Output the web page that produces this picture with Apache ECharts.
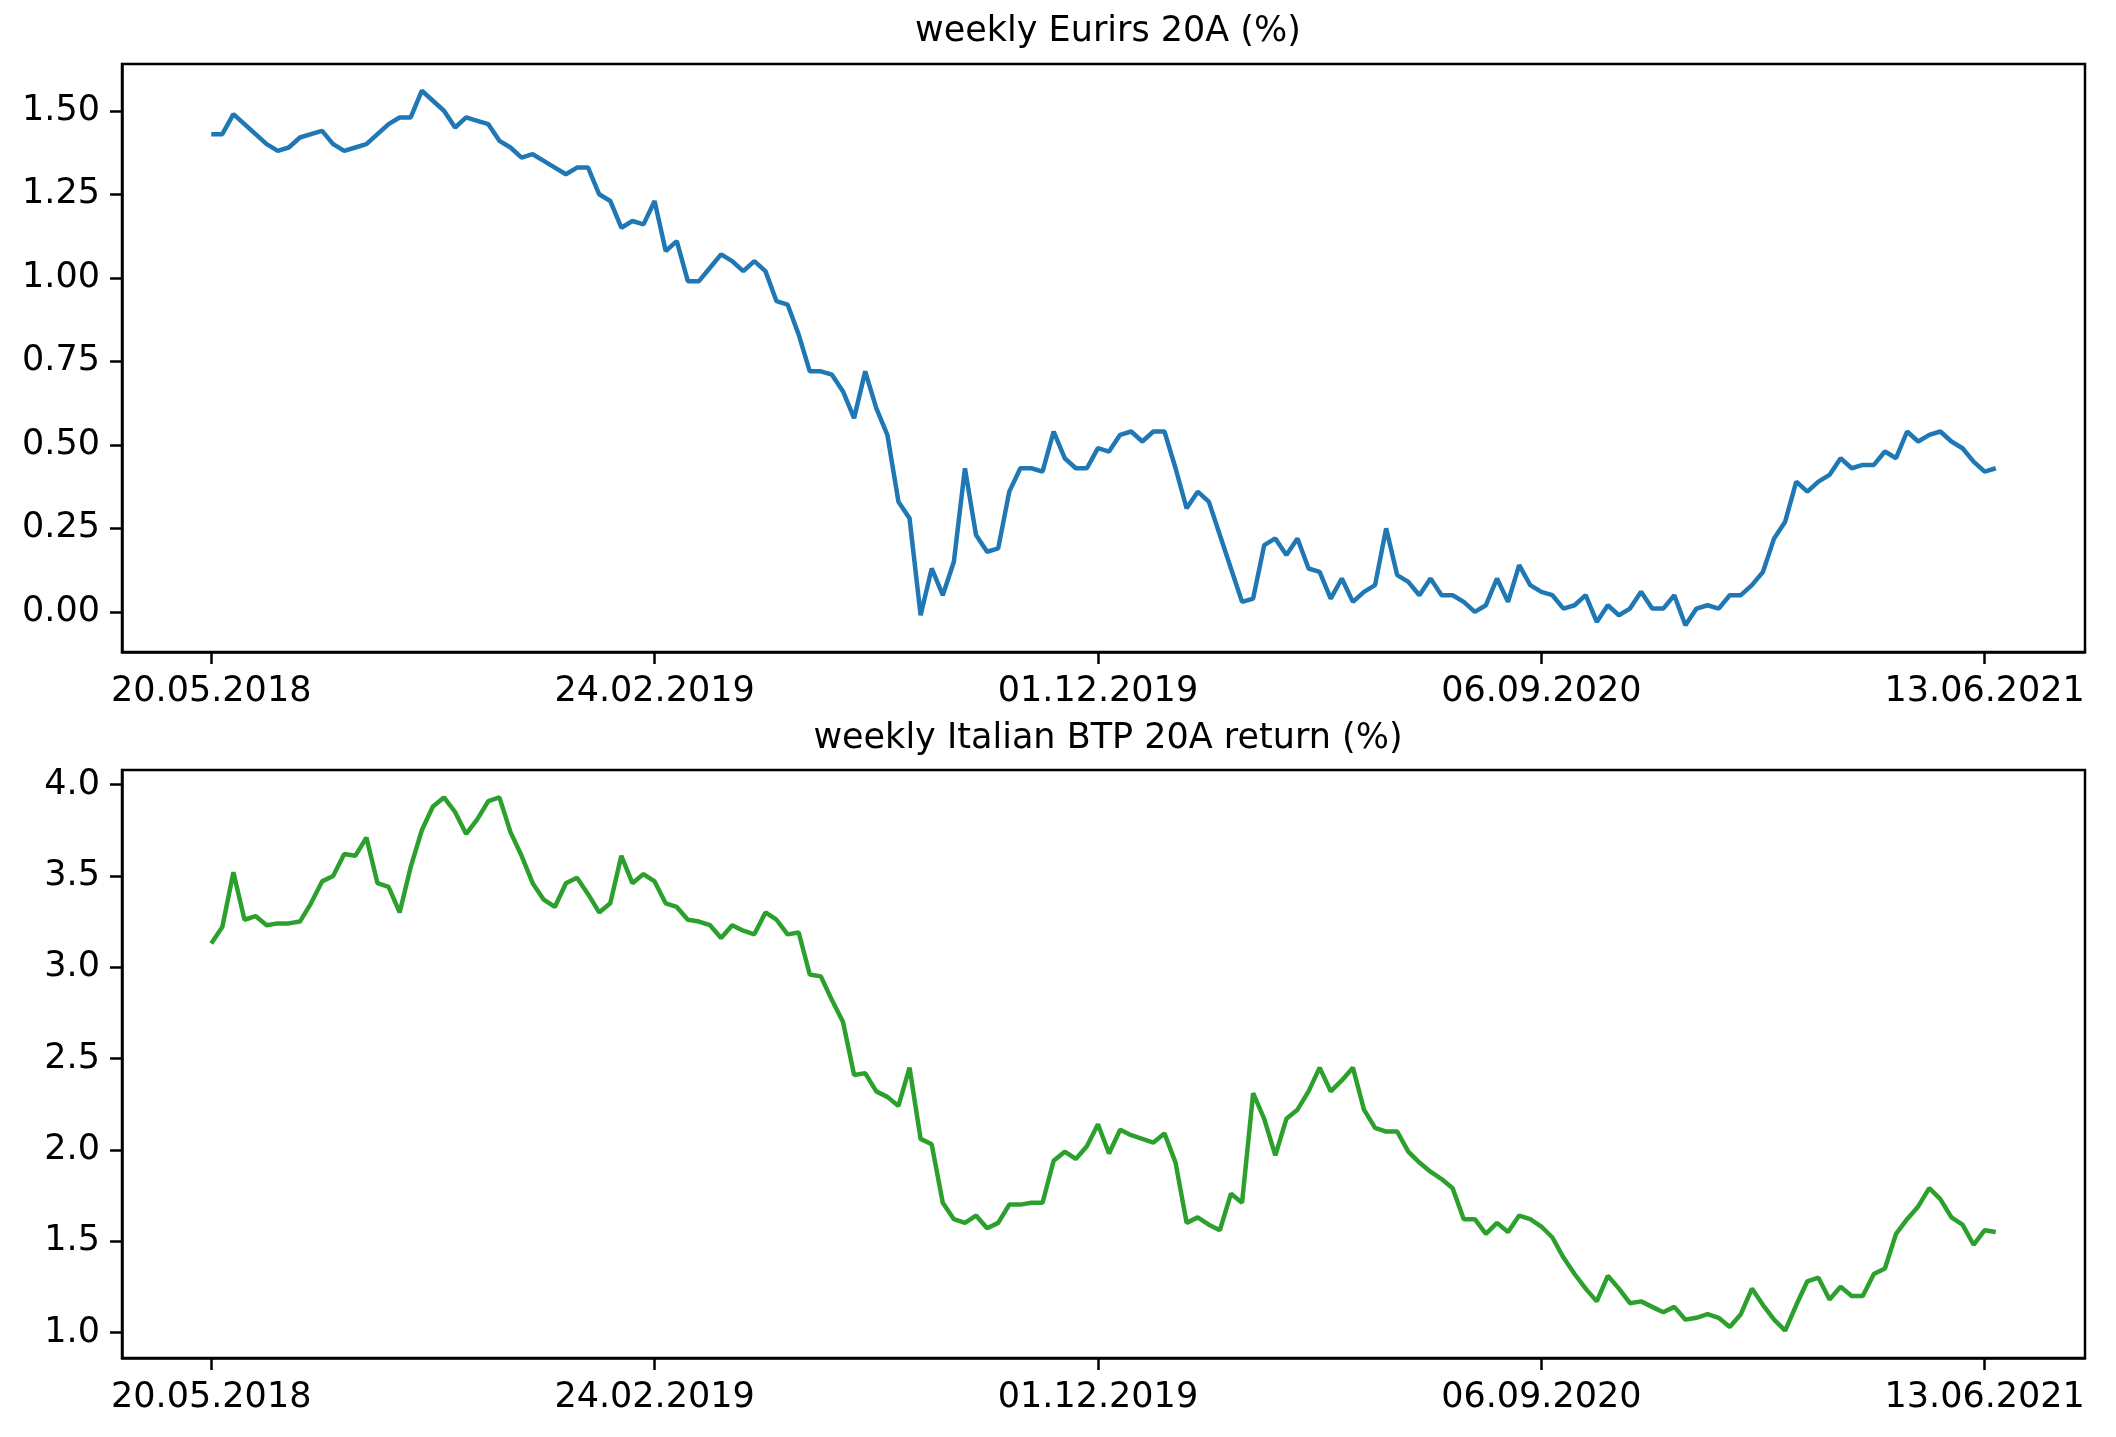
<!DOCTYPE html>
<html>
<head>
<meta charset="utf-8">
<script src="https://cdn.jsdelivr.net/npm/echarts@6/dist/echarts.min.js"></script>
<style>
html,body{margin:0;padding:0;background:#ffffff;}
#chart{width:2116px;height:1437px;}
</style>
</head>
<body>
<div id="chart"></div>
<script>
// weekly observations, index 0 = 20.05.2018
const tickPositions = [0, 40, 80, 120, 160];
const tickLabels = ['20.05.2018', '24.02.2019', '01.12.2019', '06.09.2020', '13.06.2021'];

const eurirsTicks = [0, 0.25, 0.5, 0.75, 1.0, 1.25, 1.5];
const btpTicks = [1.0, 1.5, 2.0, 2.5, 3.0, 3.5, 4.0];

const eurirs = [
  1.43, 1.43, 1.49, 1.46, 1.43, 1.40, 1.38, 1.39, 1.42, 1.43,
  1.44, 1.40, 1.38, 1.39, 1.40, 1.43, 1.46, 1.48, 1.48, 1.56,
  1.53, 1.50, 1.45, 1.48, 1.47, 1.46, 1.41, 1.39, 1.36, 1.37,
  1.35, 1.33, 1.31, 1.33, 1.33, 1.25, 1.23, 1.15, 1.17, 1.16,
  1.23, 1.08, 1.11, 0.99, 0.99, 1.03, 1.07, 1.05, 1.02, 1.05,
  1.02, 0.93, 0.92, 0.83, 0.72, 0.72, 0.71, 0.66, 0.58, 0.72,
  0.61, 0.53, 0.33, 0.28, -0.01, 0.13, 0.05, 0.15, 0.43, 0.23,
  0.18, 0.19, 0.36, 0.43, 0.43, 0.42, 0.54, 0.46, 0.43, 0.43,
  0.49, 0.48, 0.53, 0.54, 0.51, 0.54, 0.54, 0.43, 0.31, 0.36,
  0.33, 0.23, 0.13, 0.03, 0.04, 0.20, 0.22, 0.17, 0.22, 0.13,
  0.12, 0.04, 0.10, 0.03, 0.06, 0.08, 0.25, 0.11, 0.09, 0.05,
  0.10, 0.05, 0.05, 0.03, 0.00, 0.02, 0.10, 0.03, 0.14, 0.08,
  0.06, 0.05, 0.01, 0.02, 0.05, -0.03, 0.02, -0.01, 0.01, 0.06,
  0.01, 0.01, 0.05, -0.04, 0.01, 0.02, 0.01, 0.05, 0.05, 0.08,
  0.12, 0.22, 0.27, 0.39, 0.36, 0.39, 0.41, 0.46, 0.43, 0.44,
  0.44, 0.48, 0.46, 0.54, 0.51, 0.53, 0.54, 0.51, 0.49, 0.45,
  0.42, 0.43
];

const btp = [
  3.13, 3.22, 3.52, 3.26, 3.28, 3.23, 3.24, 3.24, 3.25, 3.35,
  3.47, 3.50, 3.62, 3.61, 3.71, 3.46, 3.44, 3.30, 3.55, 3.75,
  3.88, 3.93, 3.85, 3.73, 3.81, 3.91, 3.93, 3.74, 3.61, 3.46,
  3.37, 3.33, 3.46, 3.49, 3.40, 3.30, 3.35, 3.61, 3.46, 3.51,
  3.47, 3.35, 3.33, 3.26, 3.25, 3.23, 3.16, 3.23, 3.20, 3.18,
  3.30, 3.26, 3.18, 3.19, 2.96, 2.95, 2.82, 2.70, 2.41, 2.42,
  2.32, 2.29, 2.24, 2.45, 2.06, 2.03, 1.71, 1.62, 1.60, 1.64,
  1.57, 1.60, 1.70, 1.70, 1.71, 1.71, 1.94, 1.99, 1.95, 2.02,
  2.14, 1.98, 2.11, 2.08, 2.06, 2.04, 2.09, 1.93, 1.60, 1.63,
  1.59, 1.56, 1.76, 1.71, 2.31, 2.17, 1.97, 2.17, 2.22, 2.32,
  2.45, 2.32, 2.38, 2.45, 2.22, 2.12, 2.10, 2.10, 1.99, 1.93,
  1.88, 1.84, 1.79, 1.62, 1.62, 1.54, 1.60, 1.55, 1.64, 1.62,
  1.58, 1.52, 1.41, 1.32, 1.24, 1.17, 1.31, 1.24, 1.16, 1.17,
  1.14, 1.11, 1.14, 1.07, 1.08, 1.10, 1.08, 1.03, 1.10, 1.24,
  1.15, 1.07, 1.01, 1.15, 1.28, 1.30, 1.18, 1.25, 1.20, 1.20,
  1.32, 1.35, 1.54, 1.62, 1.69, 1.79, 1.73, 1.63, 1.59, 1.48,
  1.56, 1.55
];

const FONT = 'DejaVu Sans';
const FS = 35;

function toPairs(arr) { return arr.map((v, i) => [i, v]); }

function xAxisFor(gridIndex) {
  return {
    type: 'value', gridIndex: gridIndex, position: 'bottom',
    min: -8.05, max: 169.05,
    splitLine: { show: false },
    axisLine: { show: true, onZero: false, lineStyle: { color: '#000', width: 2.5 } },
    axisTick: { show: true, length: 12, lineStyle: { color: '#000', width: 2.5 }, customValues: tickPositions },
    axisLabel: {
      show: true, margin: 22, color: '#000', fontFamily: FONT, fontSize: FS,
      customValues: tickPositions,
      formatter: function (v) { const k = tickPositions.indexOf(Math.round(v)); return k >= 0 ? tickLabels[k] : ''; }
    }
  };
}

function yAxisFor(gridIndex, min, max, ticks, digits) {
  return {
    type: 'value', gridIndex: gridIndex, position: 'left',
    min: min, max: max,
    splitLine: { show: false },
    axisLine: { show: true, onZero: false, lineStyle: { color: '#000', width: 2.5 } },
    axisTick: { show: true, length: 12, lineStyle: { color: '#000', width: 2.5 }, customValues: ticks },
    axisLabel: {
      show: true, margin: 22, color: '#000', fontFamily: FONT, fontSize: FS,
      customValues: ticks,
      formatter: function (v) { return Number(v).toFixed(digits); }
    }
  };
}

const chart = echarts.init(document.getElementById('chart'), null, { renderer: 'canvas' });
chart.setOption({
  animation: false,
  backgroundColor: '#ffffff',
  title: [
    { text: 'weekly Eurirs 20A (%)', left: 1103, top: 9, textAlign: 'center',
      textStyle: { fontFamily: FONT, fontSize: FS, fontWeight: 'normal', color: '#000' } },
    { text: 'weekly Italian BTP 20A return (%)', left: 1103, top: 716, textAlign: 'center',
      textStyle: { fontFamily: FONT, fontSize: FS, fontWeight: 'normal', color: '#000' } }
  ],
  grid: [
    { left: 122, top: 64, width: 1963, height: 588, show: true, borderColor: '#000', borderWidth: 2.5, backgroundColor: 'transparent' },
    { left: 122, top: 770, width: 1963, height: 588, show: true, borderColor: '#000', borderWidth: 2.5, backgroundColor: 'transparent' }
  ],
  xAxis: [xAxisFor(0), xAxisFor(1)],
  yAxis: [
    yAxisFor(0, -0.12, 1.64, eurirsTicks, 2),
    yAxisFor(1, 0.86, 4.08, btpTicks, 1)
  ],
  series: [
    { type: 'line', xAxisIndex: 0, yAxisIndex: 0, data: toPairs(eurirs), showSymbol: false, symbol: 'none',
      lineStyle: { color: '#1f77b4', width: 4.5 }, itemStyle: { color: '#1f77b4' } },
    { type: 'line', xAxisIndex: 1, yAxisIndex: 1, data: toPairs(btp), showSymbol: false, symbol: 'none',
      lineStyle: { color: '#2ca02c', width: 4.5 }, itemStyle: { color: '#2ca02c' } }
  ]
});
</script>
</body>
</html>
